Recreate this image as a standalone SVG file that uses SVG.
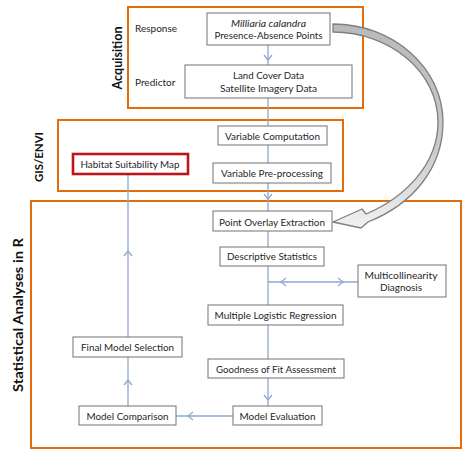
<svg xmlns="http://www.w3.org/2000/svg" width="474" height="455" viewBox="0 0 474 455">
<style>
.frame{fill:none;stroke:#E46C0A;stroke-width:2}
.box{fill:#fff;stroke:#7F7F7F;stroke-width:1.1}
.red{fill:#fff;stroke:#C0141C;stroke-width:2.6}
.t{font-family:Lato,"Liberation Sans",sans-serif;font-size:10px;fill:#262626;text-anchor:middle}
.lab{font-family:Lato,"Liberation Sans",sans-serif;font-size:10px;fill:#262626}
.v{font-family:Lato,"Liberation Sans",sans-serif;font-weight:bold;fill:#111;text-anchor:middle}
.c{fill:none;stroke:#8EA8CF;stroke-width:1.3}
.m{marker-mid:url(#chev)}
</style>
<defs>
<marker id="chev" viewBox="-7 -5 8 10" markerWidth="8" markerHeight="10" refX="0" refY="0" orient="auto" markerUnits="userSpaceOnUse">
<path d="M-5,-4 L0,0 L-5,4" fill="none" stroke="#8EA8CF" stroke-width="1.3"/>
</marker>
<linearGradient id="g" gradientUnits="userSpaceOnUse" x1="0" y1="24" x2="0" y2="230">
<stop offset="0" stop-color="#B9B9B9"/>
<stop offset="0.6" stop-color="#CACACA"/>
<stop offset="1" stop-color="#F2F2F2"/>
</linearGradient>
</defs>

<g id="frames">
<rect id="acquisition" class="frame" x="128" y="7" width="235" height="101"/>
<rect id="gis-envi" class="frame" x="58" y="120" width="285" height="71"/>
<rect id="statistical" class="frame" x="31" y="201" width="430" height="247"/>
<text class="v" font-size="13" transform="translate(121.5,58) rotate(-90)" textLength="63" lengthAdjust="spacingAndGlyphs">Acquisition</text>
<text class="v" font-size="12" transform="translate(42.5,157) rotate(-90)" textLength="50" lengthAdjust="spacingAndGlyphs">GIS/ENVI</text>
<text class="v" font-size="13" transform="translate(22.5,315) rotate(-90)" textLength="154" lengthAdjust="spacingAndGlyphs">Statistical Analyses in R</text>
<text class="lab" x="135" y="31.5">Response</text>
<text class="lab" x="135" y="85.5">Predictor</text>
</g>

<g id="connectors">
<path class="c m" d="M268,45 L268,60 L268,65"/>
<path class="c" d="M268,98 V126"/>
<path class="c" d="M268,145 V163"/>
<path class="c m" d="M268,183 L268,199 L268,211"/>
<path class="c" d="M268,231 V247"/>
<path class="c" d="M268,266 V305"/>
<path class="c m" d="M310,282 L281,282 L268,282"/>
<path class="c m" d="M310,282 L343,282 L358,282"/>
<path class="c m" d="M268,325 L268,400 L268,406"/>
<path class="c m" d="M233,416 L188,416 L176,416"/>
<path class="c m" d="M128,406 L128,380 L128,357"/>
<path class="c m" d="M128,337 L128,251 L128,174"/>
</g>

<g id="n-milliaria">
<rect class="box" x="207" y="13" width="123" height="32"/>
<text class="t" x="268.5" y="26.5" font-style="italic" textLength="75" lengthAdjust="spacingAndGlyphs">Milliaria calandra</text>
<text class="t" x="268.5" y="38.5" textLength="108" lengthAdjust="spacingAndGlyphs">Presence-Absence Points</text>
</g>
<g id="n-landcover">
<rect class="box" x="185" y="65" width="167" height="33"/>
<text class="t" x="268.5" y="78.5" textLength="71" lengthAdjust="spacingAndGlyphs">Land Cover Data</text>
<text class="t" x="268.5" y="91.5" textLength="97" lengthAdjust="spacingAndGlyphs">Satellite Imagery Data</text>
</g>
<g id="n-varcomp">
<rect class="box" x="218" y="126" width="109" height="19"/>
<text class="t" x="272.5" y="139.5" textLength="95" lengthAdjust="spacingAndGlyphs">Variable Computation</text>
</g>
<g id="n-varpre">
<rect class="box" x="213" y="163" width="118" height="20"/>
<text class="t" x="272" y="176.5" textLength="102" lengthAdjust="spacingAndGlyphs">Variable Pre-processing</text>
</g>
<g id="n-habitat">
<rect class="red" x="73" y="154" width="115" height="20"/>
<text class="t" x="130" y="167.5" textLength="99" lengthAdjust="spacingAndGlyphs">Habitat Suitability Map</text>
</g>
<g id="n-overlay">
<rect class="box" x="213" y="211" width="119" height="20"/>
<text class="t" x="272" y="225.5" textLength="106" lengthAdjust="spacingAndGlyphs">Point Overlay Extraction</text>
</g>
<g id="n-descriptive">
<rect class="box" x="220" y="247" width="104" height="19"/>
<text class="t" x="272" y="259.5" textLength="90" lengthAdjust="spacingAndGlyphs">Descriptive Statistics</text>
</g>
<g id="n-multicol">
<rect class="box" x="358" y="265" width="88" height="32"/>
<text class="t" x="401" y="278.5" textLength="73" lengthAdjust="spacingAndGlyphs">Multicollinearity</text>
<text class="t" x="401" y="290.5" textLength="42" lengthAdjust="spacingAndGlyphs">Diagnosis</text>
</g>
<g id="n-mlr">
<rect class="box" x="208" y="305" width="135" height="20"/>
<text class="t" x="275.5" y="318.5" textLength="122" lengthAdjust="spacingAndGlyphs">Multiple Logistic Regression</text>
</g>
<g id="n-final">
<rect class="box" x="73" y="337" width="109" height="20"/>
<text class="t" x="127.5" y="350.5" textLength="93" lengthAdjust="spacingAndGlyphs">Final Model Selection</text>
</g>
<g id="n-goodness">
<rect class="box" x="208" y="359" width="136" height="19"/>
<text class="t" x="276" y="372.5" textLength="120" lengthAdjust="spacingAndGlyphs">Goodness of Fit Assessment</text>
</g>
<g id="n-comparison">
<rect class="box" x="79" y="406" width="97" height="19"/>
<text class="t" x="127.5" y="419.5" textLength="82" lengthAdjust="spacingAndGlyphs">Model Comparison</text>
</g>
<g id="n-evaluation">
<rect class="box" x="233" y="406" width="89" height="19"/>
<text class="t" x="277.5" y="419.5" textLength="76" lengthAdjust="spacingAndGlyphs">Model Evaluation</text>
</g>

<g id="curved-arrow">
<path d="M333,24 C393,24 443,68 443,122 C443,168 413,204 368,222 L361,228 L333,222 L362,209 L366,214 C404,198 438,165 438,122 C438,72 390,32 333,32 Z" fill="url(#g)" stroke="#7F7F7F" stroke-width="1.3" stroke-linejoin="round"/>
</g>
</svg>
